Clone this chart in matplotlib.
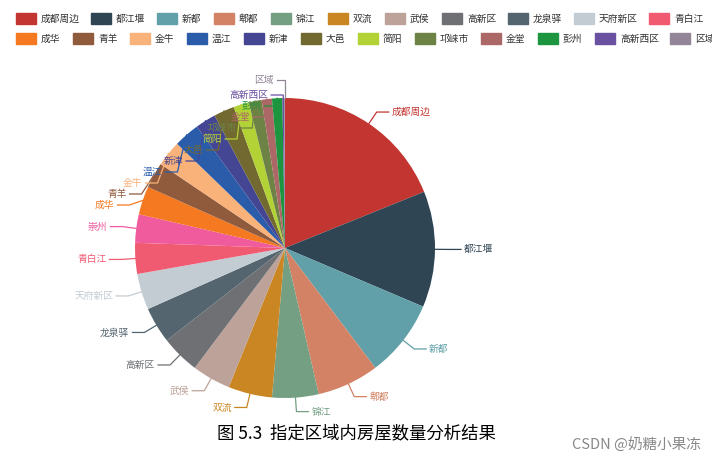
import numpy as np
import matplotlib.pyplot as plt
from matplotlib import font_manager as fm

# find a CJK font file
cjk = None
for f in fm.findSystemFonts():
    if 'NotoSansCJK' in f.replace(' ', '') or 'NotoSansSC' in f:
        cjk = f
        break
if cjk:
    fm.fontManager.addfont(cjk)
    cjk_name = fm.FontProperties(fname=cjk).get_name()
else:
    cjk_name = 'Noto Sans CJK SC'
plt.rcParams['font.family'] = [cjk_name, 'DejaVu Sans']

regions = ['成都周边', '都江堰', '新都', '郫都', '锦江', '双流', '武侯', '高新区', '龙泉驿', '天府新区',
           '青白江', '崇州', '成华', '青羊', '金牛', '温江', '新津', '大邑', '简阳', '邛崃市',
           '金堂', '彭州', '高新西区', '区域']
counts = [68, 45, 30, 24, 18, 17, 15, 15, 14, 14,
          12, 11, 11, 10, 10, 10, 8, 8, 6, 5,
          4, 4, 0.7, 0.3]
colors = ['#c23531', '#2f4554', '#61a0a8', '#d48265', '#749f83', '#ca8622', '#bda29a', '#6e7074',
          '#546570', '#c4ccd3', '#f05b72', '#ef5b9c', '#f47920', '#905a3d', '#fab27b', '#2a5caa',
          '#444693', '#726930', '#b2d235', '#6d8346', '#ac6767', '#1d953f', '#6950a1', '#918597']

W, H = 712, 465
fig = plt.figure(figsize=(W / 100, H / 100), dpi=100)
ax = fig.add_axes([0, 0, 1, 1])

cx, cy, r = 285, H - 248, 150
ax.pie(counts, colors=colors, startangle=90, counterclock=False,
       center=(cx, cy), radius=r, wedgeprops=dict(linewidth=0))
ax.set_xlim(0, W)
ax.set_ylim(0, H)
ax.set_aspect('equal')
ax.axis('off')

# labels with leader lines
total = float(sum(counts))
cum = np.cumsum([0] + counts[:-1])
items = []
for name, c, v, col in zip(regions, cum, counts, colors):
    a = np.deg2rad(90 - (c + v / 2) / total * 360)
    px, py = cx + r * np.cos(a), cy + r * np.sin(a)
    ex, ey = cx + (r + 14) * np.cos(a), cy + (r + 14) * np.sin(a)
    items.append([name, col, px, py, ex, ey, np.cos(a) >= 0])

# spread labels on the left side vertically
left = sorted([it for it in items if not it[6]], key=lambda t: -t[5])
for i in range(1, len(left)):
    if left[i - 1][5] - left[i][5] < 11:
        left[i][5] = left[i - 1][5] - 11

for name, col, px, py, ex, ey, right in items:
    tx = ex + 12 if right else ex - 12
    if name == '区域':
        ex, ey, tx = px, py + 18, px - 8
    ax.plot([px, ex, tx], [py, ey, ey], color=col, lw=0.9)
    ax.text(tx + (3 if right else -3), ey, name, color=col, fontsize=7,
            ha='left' if right else 'right', va='center')

# legend, two rows
x = 16
for i, (name, col) in enumerate(zip(regions, colors)):
    if i == 12:
        x = 16
    y = H - (19 if i < 12 else 39)
    ax.add_patch(plt.Rectangle((x, y - 5), 20, 11, color=col))
    ax.text(x + 25, y, name, fontsize=7, color='#333333', va='center')
    x += 25 + 9 * len(name) + 14

fig.text(0.5, (H - 433) / H, '图 5.3  指定区域内房屋数量分析结果', ha='center', va='center',
         fontsize=12.5, color='black')
fig.text(0.985, (H - 444) / H, 'CSDN @奶糖小果冻', ha='right', va='center', fontsize=10.5, color='#888888')

fig.savefig('out.png', dpi=100)
